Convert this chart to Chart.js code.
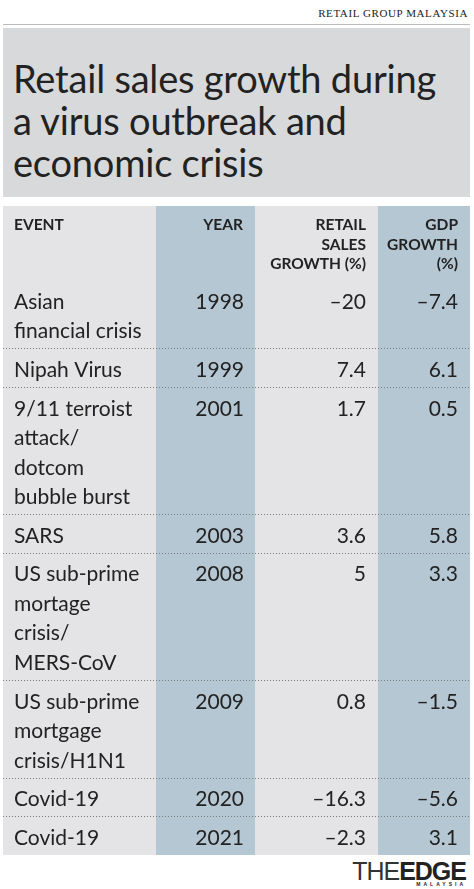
<!DOCTYPE html>
<html>
<head>
<meta charset="utf-8">
<script src="https://cdn.jsdelivr.net/npm/chart.js@4"></script>
<style>
  body { margin: 0; width: 474px; height: 889px; background: #fff; position: relative; font-family: Lato, "Open Sans", sans-serif; color: #222; overflow: hidden; }
  #source { position: absolute; right: 6px; top: 7px; font: 11px "Liberation Serif", "DejaVu Serif", serif; letter-spacing: 0.6px; color: #222; }
  #rule { position: absolute; left: 3px; right: 4px; top: 24px; border-top: 1px solid #bbb; }
  #titlebox { position: absolute; left: 3px; top: 28px; width: 467px; height: 169px; background: #d8d9db; }
  #title { position: absolute; left: 10px; top: 29px; font-size: 38px; line-height: 42px; font-weight: 400; color: #222; letter-spacing: -0.2px; }
  #wrap { position: absolute; left: 3px; top: 206px; width: 467px; height: 649px; }
  #logo { position: absolute; right: 8px; top: 857px; font: 900 25px "Liberation Sans", Arial, sans-serif; letter-spacing: -1px; color: #222; }
  #logo span { font-weight: 300; font-family: "Liberation Sans Narrow", "Liberation Sans", sans-serif; color: #333; }
  #logo small { display: block; font-size: 5px; letter-spacing: 3px; text-align: right; margin-top: -5px; font-weight: 700; }
</style>
</head>
<body>
<div id="source">RETAIL GROUP MALAYSIA</div>
<div id="rule"></div>
<div id="titlebox"><div id="title">Retail sales growth during<br>a virus outbreak and<br>economic crisis</div></div>
<div id="wrap"><canvas id="table" width="467" height="649"></canvas></div>
<div id="logo"><span>THE</span>EDGE<small>MALAYSIA</small></div>
<script>
// table data
const headers = [['EVENT'], ['YEAR'], ['RETAIL', 'SALES', 'GROWTH (%)'], ['GDP', 'GROWTH', '(%)']];
const events = [
    ['Asian', 'financial crisis'],
    ['Nipah Virus'],
    ['9/11 terroist', 'attack/', 'dotcom', 'bubble burst'],
    ['SARS'],
    ['US sub-prime', 'mortage', 'crisis/', 'MERS-CoV'],
    ['US sub-prime', 'mortgage', 'crisis/H1N1'],
    ['Covid-19'],
    ['Covid-19']
];
const years = ['1998', '1999', '2001', '2003', '2008', '2009', '2020', '2021'];
const retailGrowth = [-20, 7.4, 1.7, 3.6, 5, 0.8, -16.3, -2.3];
const gdpGrowth = [-7.4, 6.1, 0.5, 5.8, 3.3, -1.5, -5.6, 3.1];

// layout in table pixel units
const colEdges = [0, 153, 252, 375, 467];
const headerHeight = 73;
const lineHeight = 29;
const rowHeight = n => n * lineHeight + 9;

const rowTops = [];
let y = headerHeight;
events.forEach(e => { rowTops.push(y); y += rowHeight(e.length); });
const totalHeight = y;

const fmt = v => (v < 0 ? '\u2013' + Math.abs(v) : String(v));

const tablePlugin = {
    id: 'tablePlugin',
    beforeDatasetsDraw(chart) {
        const { ctx, scales: { x, y } } = chart;
        ctx.save();
        // column backgrounds
        const bg = ['#e4e4e6', '#b6c7d4', '#e4e4e6', '#b6c7d4'];
        bg.forEach((c, i) => {
            ctx.fillStyle = c;
            const x0 = x.getPixelForValue(colEdges[i]);
            const x1 = x.getPixelForValue(colEdges[i + 1]);
            ctx.fillRect(x0, y.getPixelForValue(0), x1 - x0, y.getPixelForValue(totalHeight) - y.getPixelForValue(0));
        });
        // dotted separators
        ctx.strokeStyle = '#7a7d80';
        ctx.lineWidth = 1;
        ctx.setLineDash([1, 2]);
        rowTops.slice(1).forEach(t => {
            const py = Math.round(y.getPixelForValue(t)) + 0.5;
            ctx.beginPath();
            ctx.moveTo(x.getPixelForValue(0), py);
            ctx.lineTo(x.getPixelForValue(467), py);
            ctx.stroke();
        });
        ctx.setLineDash([]);

        // header
        ctx.fillStyle = '#222';
        ctx.font = 'bold 15.5px Lato, "Open Sans", sans-serif';
        ctx.textBaseline = 'alphabetic';
        headers.forEach((lines, i) => {
            lines.forEach((t, k) => {
                if (i === 0) {
                    ctx.textAlign = 'left';
                    ctx.fillText(t, x.getPixelForValue(11), y.getPixelForValue(24 + k * 19));
                } else {
                    ctx.textAlign = 'right';
                    ctx.fillText(t, x.getPixelForValue(colEdges[i + 1] - 12), y.getPixelForValue(24 + k * 19));
                }
            });
        });

        // body
        ctx.font = '21px Lato, "Open Sans", sans-serif';
        events.forEach((lines, r) => {
            const base = rowTops[r] + 28;
            ctx.textAlign = 'left';
            lines.forEach((t, k) => ctx.fillText(t, x.getPixelForValue(11), y.getPixelForValue(base + k * lineHeight)));
            ctx.textAlign = 'right';
            ctx.fillText(years[r], x.getPixelForValue(colEdges[2] - 11), y.getPixelForValue(base));
            ctx.fillText(fmt(retailGrowth[r]), x.getPixelForValue(colEdges[3] - 12), y.getPixelForValue(base));
            ctx.fillText(fmt(gdpGrowth[r]), x.getPixelForValue(colEdges[4] - 12), y.getPixelForValue(base));
        });
        ctx.restore();
    }
};

new Chart(document.getElementById('table'), {
    type: 'scatter',
    data: {
        datasets: [{
            data: years.map((yr, r) => ({ x: colEdges[1], y: rowTops[r] })),
            pointRadius: 0
        }]
    },
    options: {
        responsive: false,
        animation: false,
        layout: { padding: 0 },
        plugins: { legend: { display: false }, tooltip: { enabled: false } },
        scales: {
            x: { type: 'linear', min: 0, max: 467, display: false },
            y: { type: 'linear', min: 0, max: totalHeight, reverse: true, display: false }
        }
    },
    plugins: [tablePlugin]
});
</script>
</body>
</html>
